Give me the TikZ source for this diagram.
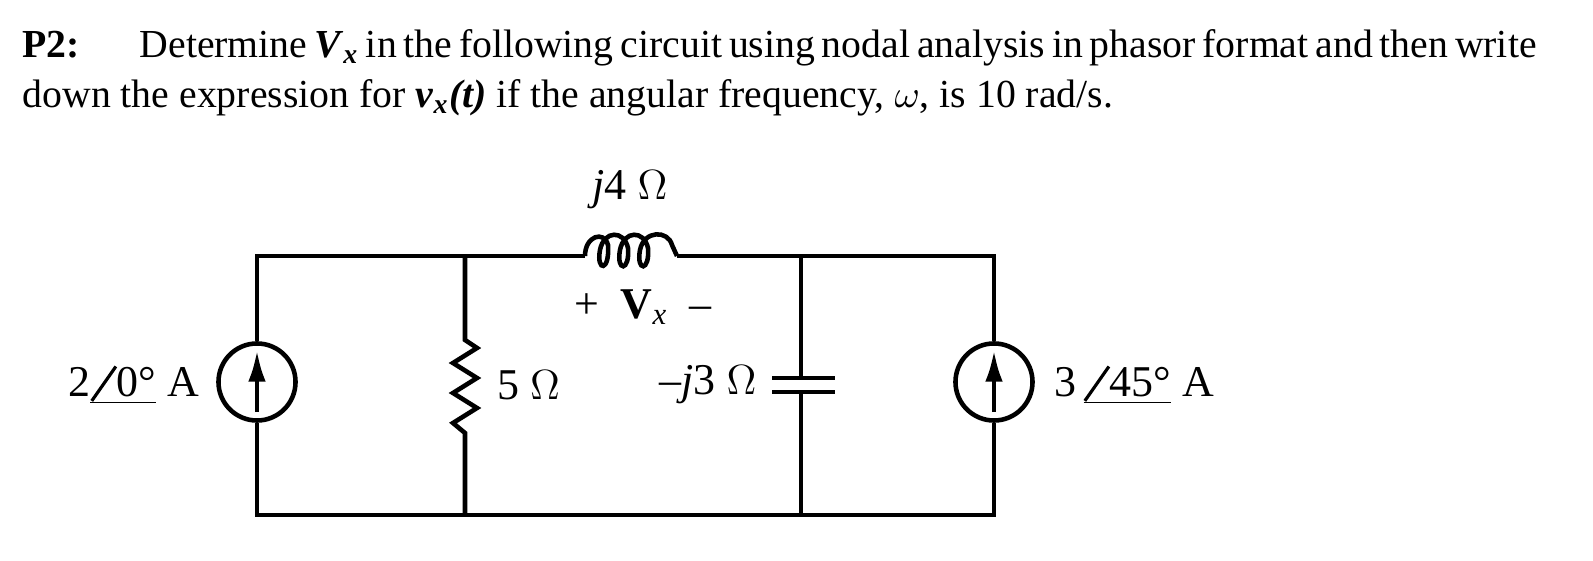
\documentclass[tikz,border=0pt]{standalone}
\usepackage{fontspec}
\setmainfont{Liberation Serif}
\usetikzlibrary{arrows.meta}
\newcommand{\myang}[1]{\makebox[0pt][l]{\raisebox{-0.11em}{\rotatebox{55}{\rule{0.42cm}{0.9pt}}}}\underline{\kern0.26cm #1}}
\begin{document}
\begin{tikzpicture}[x=0.01cm,y=-0.01cm,
  wire/.style={line width=1.3pt},
  src/.style={circle,draw,line width=1.3pt,minimum size=0.77cm,inner sep=0pt},
  lbl/.style={font=\fontsize{12.5}{15}\selectfont,inner sep=1pt}]
\useasboundingbox (0,0) rectangle (1593,561);
\node[anchor=base west,inner sep=0pt,font=\fontsize{11.3}{13}\selectfont] (t1) at (22,58)
 {\makebox[15.13cm][s]{\textbf{P2:}\hspace{1.5em}Determine \textbf{\textit{V}\textsubscript{\textit{x}}} in the following circuit using nodal analysis in phasor format and then write}};
\node[anchor=base west,inner sep=0pt,font=\fontsize{11.3}{13}\selectfont] (t2) at (22,108)
 {down the expression for \textbf{\textit{v}\textsubscript{\textit{x}}\textit{(t)}} if the angular frequency, $\omega$, is 10 rad/s.};
% nodes
\coordinate (tl) at (257,256); \coordinate (bl) at (257,515);
\coordinate (tr) at (994,256); \coordinate (br) at (994,515);
\coordinate (rt) at (465,256); \coordinate (rb) at (465,515);
\coordinate (ct) at (801,256); \coordinate (cb) at (801,515);
\coordinate (la) at (585,256); \coordinate (lb) at (677,256);
\node[src] (s1) at (257,382) {};
\node[src] (s2) at (994,382) {};
\draw[-{Latex[length=9pt,width=5pt]},line width=1.3pt] ([yshift=-0.3cm]s1.center) -- ([yshift=0.32cm]s1.center);
\draw[-{Latex[length=9pt,width=5pt]},line width=1.3pt] ([yshift=-0.3cm]s2.center) -- ([yshift=0.32cm]s2.center);
% wires
\draw[wire] (s1.north) -- (tl) -- (la);
\draw[wire] (lb) -- (tr) -- (s2.north);
\draw[wire] (s1.south) -- (bl) -- (br) -- (s2.south);
% inductor
\draw[wire] (la) .. controls (585,236) and (604,230) .. (608,245)
  .. controls (610,272) and (596,272) .. (600,250)
  .. controls (604,230) and (624,230) .. (628,248)
  .. controls (630,272) and (616,272) .. (620,250)
  .. controls (624,230) and (644,230) .. (648,248)
  .. controls (650,272) and (636,272) .. (640,250)
  .. controls (644,230) and (668,230) .. (672,245) -- (lb);
% resistor
\draw[wire] (rt) -- (465,340) -- (477,348) -- (453,363) -- (477,378) -- (453,393) -- (477,408) -- (453,423) -- (465,433) -- (rb);
% capacitor
\draw[wire] (ct) -- (801,378); \draw[wire] (772,378) -- (835,378);
\draw[wire] (772,392) -- (835,392); \draw[wire] (801,392) -- (cb);
% labels
\node[lbl] (l1) at (630,190) {\textit{j}4 $\Omega$};
\node[lbl] (l2) at (643,307) {+\ \ \textbf{V}\textsubscript{\textit{x}}\ \ --};
\node[lbl,anchor=west] (l3) at (493,385) {5 $\Omega$};
\node[lbl] (l4) at (708,385) {--\textit{j}3 $\Omega$};
\node[lbl,anchor=east] (l5) at (203,385) {2\myang{0°} A};
\node[lbl,anchor=west] (l6) at (1050,385) {3\,\myang{45°} A};
\end{tikzpicture}
\end{document}
